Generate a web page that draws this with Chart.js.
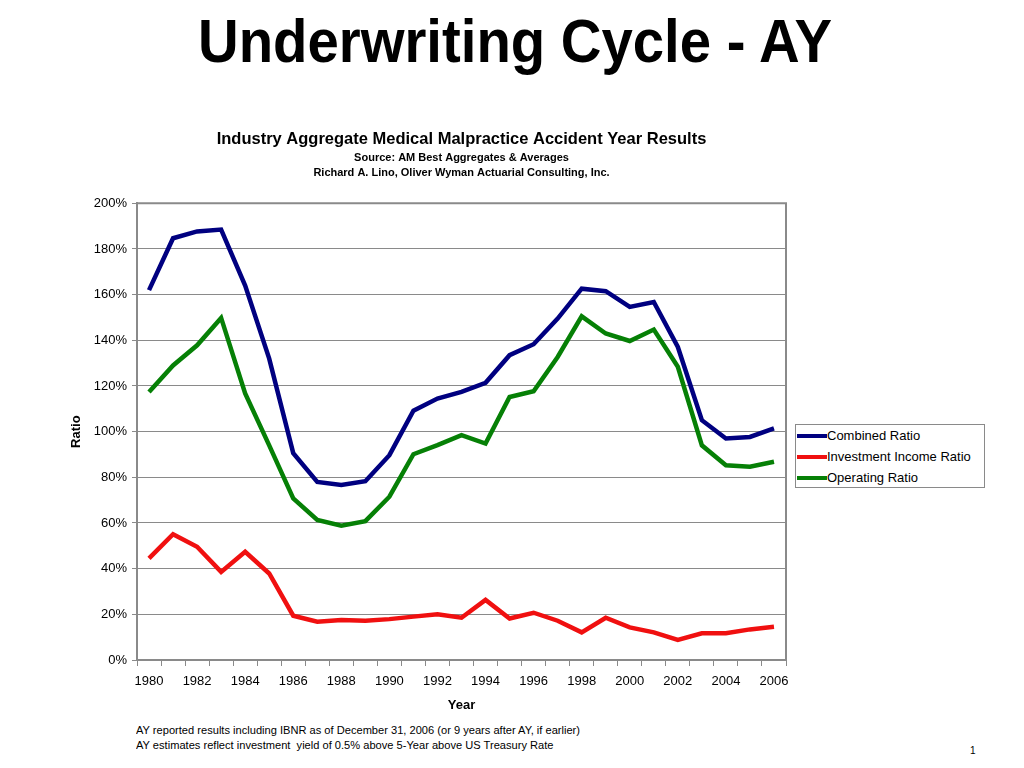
<!DOCTYPE html>
<html>
<head>
<meta charset="utf-8">
<title>Underwriting Cycle - AY</title>
<script src="https://cdn.jsdelivr.net/npm/chart.js"></script>
<style>
body{margin:0;background:#fff;font-family:"Liberation Sans",Arial,sans-serif;color:#000;}
#page{position:relative;width:1024px;height:768px;overflow:hidden;}
#pageTitle{position:absolute;left:0;top:10px;font-size:62px;line-height:62px;font-weight:bold;white-space:nowrap;transform-origin:0 0;}
#chartBox{position:absolute;left:40px;top:122px;width:770px;height:600px;}
#legendBox{position:absolute;left:795px;top:424px;width:190px;height:64px;box-sizing:border-box;border:1px solid #8a8a8a;background:#fff;}
.lgRow{height:21px;line-height:21px;font-size:13px;white-space:nowrap;}
.lgLine{display:inline-block;width:30px;height:4px;vertical-align:middle;margin-left:1px;margin-top:-2px;}
.note{position:absolute;left:136px;font-size:11px;line-height:15px;white-space:nowrap;transform-origin:0 50%;}
#pageNum{position:absolute;left:970px;top:744px;font-size:10px;line-height:14px;}
</style>
</head>
<body>
<div id="page">
	<div id="pageTitle">Underwriting Cycle - AY</div>
	<div id="chartBox"><canvas id="lineChart"></canvas></div>
	<div id="legendBox"></div>
	<div class="note" id="note1" style="top:723px">AY reported results including IBNR as of December 31, 2006 (or 9 years after AY, if earlier)</div>
	<div class="note" id="note2" style="top:738px">AY estimates reflect investment&nbsp; yield of 0.5% above 5-Year above US Treasury Rate</div>
	<div id="pageNum">1</div>
</div>
<script>
var years = ["1980","1981","1982","1983","1984","1985","1986","1987","1988","1989",
	"1990","1991","1992","1993","1994","1995","1996","1997","1998","1999",
	"2000","2001","2002","2003","2004","2005","2006"];

// ratios in percent
var combinedRatio = [162,184.7,187.7,188.5,164,132,90.6,78,76.6,78.3,
	89.7,109.2,114.5,117.4,121.4,133.5,138.3,149.5,162.6,161.5,
	154.6,156.8,137.1,105,97,97.7,101.4];
var investRatio = [44.5,55.1,49.6,38.6,47.4,37.9,19.4,16.8,17.5,17.2,
	17.9,19,20,18.5,26.3,18.2,20.7,17.2,12.1,18.5,
	14.3,12.1,8.8,11.7,11.7,13.4,14.6];
var operatingRatio = [117.4,129,137.8,149.8,116.7,94,70.8,61.3,58.8,60.8,
	71.5,90.1,94.1,98.5,94.8,115.2,117.7,132.7,150.5,143,
	139.7,144.7,128.4,94,85.3,84.6,86.8];

var yTicks = [0,20,40,60,80,100,120,140,160,180,200];

var chartTitle = "Industry Aggregate Medical Malpractice Accident Year Results";
var chartSubtitle = ["Source: AM Best Aggregates & Averages","Richard A. Lino, Oliver Wyman Actuarial Consulting, Inc."];

var FONT = "'Liberation Sans', Arial, sans-serif";

// squeeze wide html text to the widths in the picture
function fitWidth(id, w){
	var el = document.getElementById(id);
	var nat = el.getBoundingClientRect().width;
	el.style.transform = "scaleX(" + (w / nat) + ")";
	return w / nat;
}
var pageTitleEl = document.getElementById("pageTitle");
fitWidth("pageTitle", 634);
pageTitleEl.style.left = "198px";
var ns = fitWidth("note1", 444);
document.getElementById("note2").style.transform = "scaleX(" + ns + ")";

// frame round the plot area (top and right edges)
var framePlugin = {
	id: "frame",
	afterDatasetsDraw: function(chart){
		var a = chart.chartArea, ctx = chart.ctx;
		ctx.save();
		ctx.strokeStyle = "#8a8a8a";
		ctx.lineWidth = 2;
		ctx.beginPath();
		ctx.moveTo(a.left, a.top);
		ctx.lineTo(a.right, a.top);
		ctx.lineTo(a.right, a.bottom);
		ctx.stroke();
		ctx.restore();
	}
};

function InitLineGraph(){
	var lineData = {
		labels: years,
		datasets: [
			{label: "Combined Ratio", data: combinedRatio, borderColor: "#000080", backgroundColor: "#000080"},
			{label: "Investment Income Ratio", data: investRatio, borderColor: "#f01010", backgroundColor: "#f01010"},
			{label: "Operating Ratio", data: operatingRatio, borderColor: "#068006", backgroundColor: "#068006"}
		]
	};
	var lineOptions = {
		responsive: true,
		maintainAspectRatio: false,
		animation: false,
		layout: {padding: {left: 25, right: 24, top: 0, bottom: 5}},
		elements: {
			line: {borderWidth: 4.5, tension: 0, fill: false},
			point: {radius: 0, hoverRadius: 0}
		},
		plugins: {
			legend: {display: false},
			tooltip: {enabled: false},
			title: {
				display: true, text: chartTitle, fullSize: false, color: "#000",
				font: {family: FONT, size: 16.5, weight: "bold", lineHeight: 1.2},
				padding: {top: 7.5, bottom: 1}
			},
			subtitle: {
				display: true, text: chartSubtitle, fullSize: false, color: "#000",
				font: {family: FONT, size: 11, weight: "bold", lineHeight: 15/11},
				padding: {top: 0, bottom: 23}
			}
		},
		scales: {
			x: {
				type: "category",
				offset: true,
				grid: {display: true, drawOnChartArea: false, drawTicks: true, tickLength: 6, color: "#8a8a8a", lineWidth: 1, offset: true},
				border: {display: true, color: "#8a8a8a", width: 2},
				ticks: {
					color: "#000", padding: 8, autoSkip: false, maxRotation: 0,
					font: {family: FONT, size: 13},
					callback: function(val, idx){ return idx % 2 === 0 ? years[idx] : ""; }
				},
				title: {display: true, text: "Year", color: "#000", font: {family: FONT, size: 13, weight: "bold"}, padding: {top: 4, bottom: 4}},
				afterFit: function(scale){ scale.height = 57; }
			},
			y: {
				min: 0, max: 200,
				grid: {color: "#8a8a8a", lineWidth: 1, tickLength: 5},
				border: {display: true, color: "#8a8a8a", width: 2},
				afterBuildTicks: function(scale){ scale.ticks = yTicks.map(function(v){ return {value: v}; }); },
				ticks: {
					color: "#000", padding: 5,
					font: {family: FONT, size: 13},
					callback: function(v){ return v + "%"; }
				},
				title: {display: true, text: "Ratio", color: "#000", font: {family: FONT, size: 13, weight: "bold"}, padding: {top: 4, bottom: 4}},
				afterFit: function(scale){ scale.width = 72; }
			}
		}
	};
	var ctx = document.getElementById("lineChart").getContext("2d");
	var chart = new Chart(ctx, {type: "line", data: lineData, options: lineOptions, plugins: [framePlugin]});
	return chart;
}

function BuildLegend(chart){
	var box = document.getElementById("legendBox");
	var html = "";
	for(var i = 0; i < chart.data.datasets.length; i++){
		var ds = chart.data.datasets[i];
		html += '<div class="lgRow"><span class="lgLine" style="background:' + ds.borderColor + '"></span>' + ds.label + '</div>';
	}
	box.innerHTML = html;
}

var chart = InitLineGraph();
BuildLegend(chart);
</script>
</body>
</html>
